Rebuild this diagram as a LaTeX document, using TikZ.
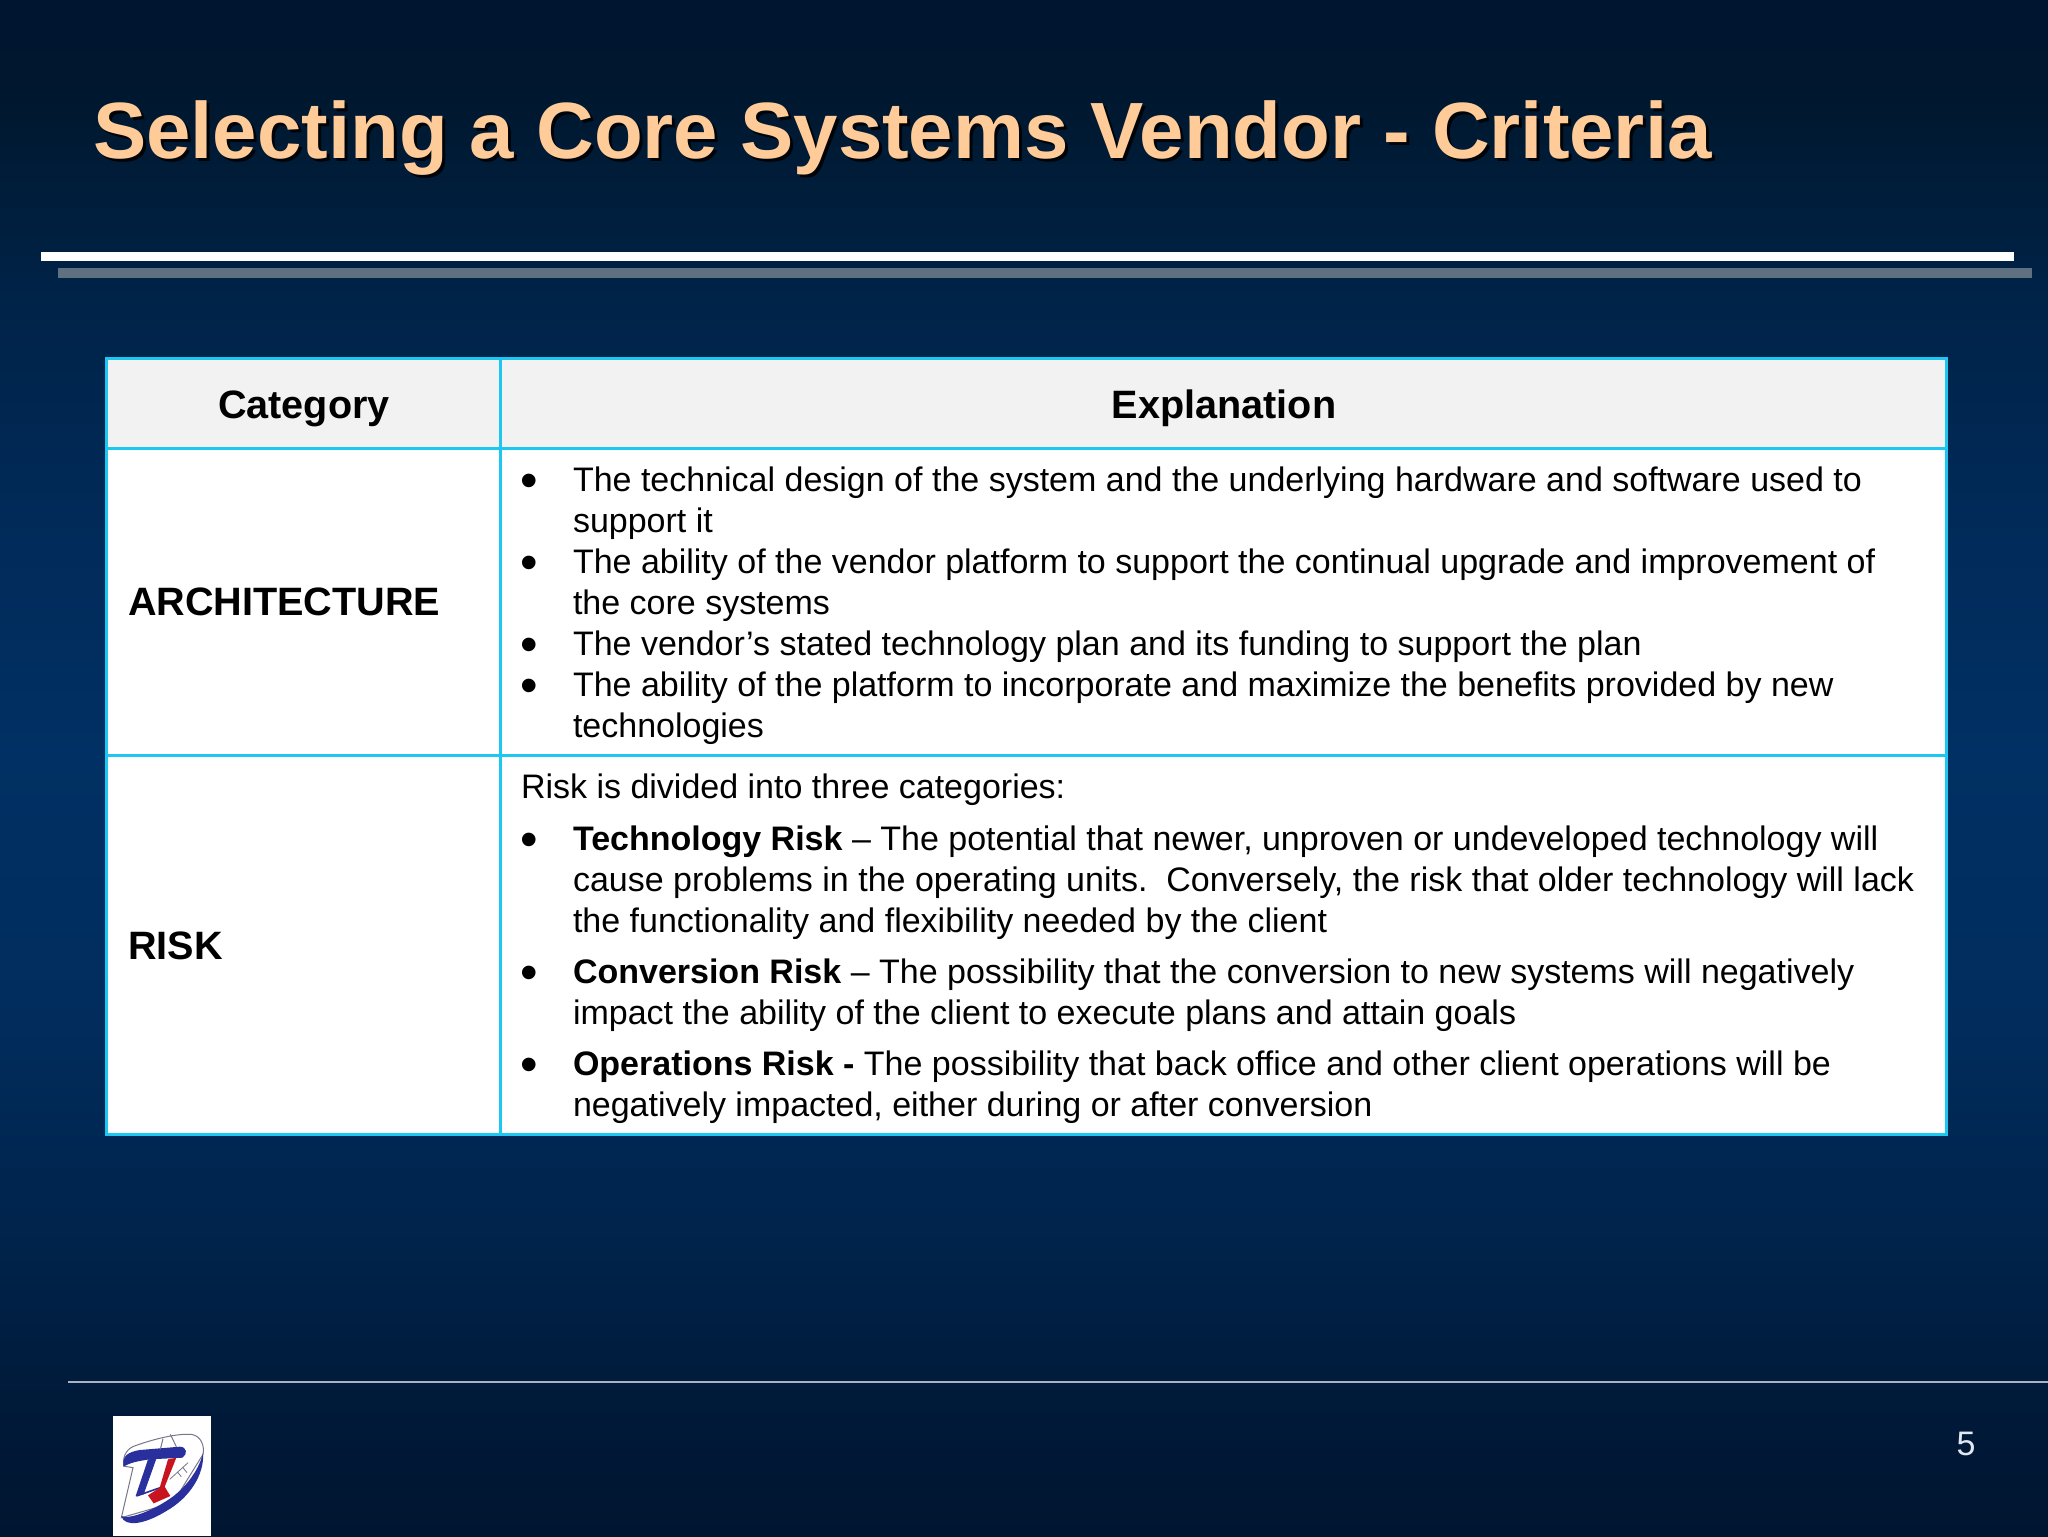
\documentclass[tikz,border=0pt]{standalone}
\usepackage{fontspec}
\setmainfont{Liberation Sans}
\definecolor{bga}{HTML}{001530}
\definecolor{bgb}{HTML}{00182F}
\definecolor{bgc}{HTML}{002348}
\definecolor{bgd}{HTML}{012A58}
\definecolor{bge}{HTML}{013064}
\definecolor{bgf}{HTML}{012D5E}
\definecolor{bgg}{HTML}{00234A}
\definecolor{bgh}{HTML}{001A3A}
\definecolor{titlecol}{HTML}{FFCC99}
\definecolor{gridcol}{HTML}{1CC8F2}
\definecolor{headcol}{HTML}{F2F2F2}
\definecolor{shadowbar}{HTML}{5F7080}
\definecolor{footline}{HTML}{A8B4C4}
\definecolor{numcol}{HTML}{E2E8F0}
\definecolor{logoblue}{HTML}{2A2F9E}
\definecolor{logored}{HTML}{C8141E}
\definecolor{logogray}{HTML}{77778A}
\pgfdeclareverticalshading{slidebg}{100bp}{color(0bp)=(bga); color(25bp)=(bga); color(29.5bp)=(bgh); color(34.3bp)=(bgg); color(42.5bp)=(bgf); color(50.5bp)=(bge); color(58.5bp)=(bgd); color(65.25bp)=(bgc); color(71.75bp)=(bgb); color(75bp)=(bga); color(100bp)=(bga)}
\newcommand{\bodyfont}{\fontsize{17}{20}\selectfont}
\tikzset{
  line/.style={anchor=base west,inner sep=0pt,outer sep=0pt,font=\bodyfont,text=black},
  bul/.style={anchor=base,inner sep=0pt,outer sep=0pt,font=\fontsize{25}{25}\selectfont,text=black,text height=13pt,text depth=0pt},
  cat/.style={anchor=base west,inner sep=0pt,outer sep=0pt,font=\fontsize{19.8}{22}\selectfont\bfseries,text=black},
  head/.style={anchor=base,inner sep=0pt,outer sep=0pt,font=\fontsize{19.8}{22}\selectfont\bfseries,text=black},
  titletext/.style={anchor=base west,inner sep=0pt,outer sep=0pt,font=\fontsize{39.9}{44}\selectfont\bfseries},
  grid/.style={draw=gridcol,line width=1.5pt},
}
\begin{document}
\begin{tikzpicture}[x=0.5pt,y=-0.5pt]
\useasboundingbox (0,0) rectangle (2048,1536);
\shade[shading=slidebg] (0,0) rectangle (2048,1536);
% title
\node[titletext,text=black!85!bga] (titleshadow) at (96,161) {Selecting a Core Systems Vendor - Criteria};
\node[titletext,text=titlecol] (title) at (93,158) {Selecting a Core Systems Vendor - Criteria};
% rules
\fill[shadowbar] (58,268) rectangle (2032,278);
\fill[white] (41,252) rectangle (2014,261);
% table
\fill[headcol] (106,358) rectangle (1946,448);
\fill[white] (106,448) rectangle (1946,1134);
\coordinate (tl) at (106,358); \coordinate (tr) at (1946,358);
\coordinate (bl) at (106,1134); \coordinate (br) at (1946,1134);
\coordinate (c1) at (500,358); \coordinate (c2) at (500,1134);
\coordinate (r1a) at (106,448); \coordinate (r1b) at (1946,448);
\coordinate (r2a) at (106,755); \coordinate (r2b) at (1946,755);
\draw[grid] (c1) -- (c2);
\draw[grid] (r1a) -- (r1b);
\draw[grid] (r2a) -- (r2b);
\draw[grid] (tl) -- (tr) -- (br) -- (bl) -- cycle;
\node[head] (hcat) at (304,418) {Category};
\node[head] (hexp) at (1224,418) {Explanation};
\node[cat] (arch) at (128,615) {ARCHITECTURE};
\node[cat] (risk) at (128,959) {RISK};
% architecture
\node[bul] (b1) at (529,497) {•};
\node[line] (l1) at (573,491.5) {The technical design of the system and the underlying hardware and software used to};
\node[line] (l2) at (573,532.5) {support it};
\node[bul] (b2) at (529,579) {•};
\node[line] (l3) at (573,573.5) {The ability of the vendor platform to support the continual upgrade and improvement of};
\node[line] (l4) at (573,614.5) {the core systems};
\node[bul] (b3) at (529,661) {•};
\node[line] (l5) at (573,655.5) {The vendor’s stated technology plan and its funding to support the plan};
\node[bul] (b4) at (529,702) {•};
\node[line] (l6) at (573,696.5) {The ability of the platform to incorporate and maximize the benefits provided by new};
\node[line] (l7) at (573,737.5) {technologies};
% risk
\node[line] (r0) at (521,798.5) {Risk is divided into three categories:};
\node[bul] (rb1) at (529,856) {•};
\node[line] (r1) at (573,850.5) {\textbf{Technology Risk} – The potential that newer, unproven or undeveloped technology will};
\node[line] (r2) at (573,891.5) {cause problems in the operating units.\ \ Conversely, the risk that older technology will lack};
\node[line] (r3) at (573,932.5) {the functionality and flexibility needed by the client};
\node[bul] (rb2) at (529,989) {•};
\node[line] (r4) at (573,983) {\textbf{Conversion Risk} – The possibility that the conversion to new systems will negatively};
\node[line] (r5) at (573,1024) {impact the ability of the client to execute plans and attain goals};
\node[bul] (rb3) at (529,1081) {•};
\node[line] (r6) at (573,1075.5) {\textbf{Operations Risk -} The possibility that back office and other client operations will be};
\node[line] (r7) at (573,1116.5) {negatively impacted, either during or after conversion};
% footer
\coordinate (fa) at (68,1382); \coordinate (fb) at (2048,1382);
\draw[footline,line width=0.8pt] (fa) -- (fb);
\node[anchor=base,inner sep=0pt,text=numcol,font=\fontsize{17}{19}\selectfont] (page) at (1966,1455) {5};
% logo
\fill[white] (113,1416) rectangle (211,1536);
\begin{scope}[shift={(113,1416)},x=0.1667pt,y=-0.1667pt]
% outline
\draw[logogray,line width=0.5pt,fill=white] (25,305) -- (60,155) -- (32,150) .. controls (28,115) and (45,95) .. (70,88) .. controls (120,70) and (190,52) .. (235,55) .. controls (265,60) and (275,90) .. (270,115) -- (180,260) -- cycle;
% lower swoosh
\fill[logoblue] (25,300) .. controls (35,335) and (95,325) .. (160,285) .. controls (230,245) and (275,175) .. (270,110) .. controls (262,150) and (225,215) .. (160,255) .. controls (105,290) and (45,310) .. (25,300) -- cycle;
% top bar
\fill[logoblue] (32,152) .. controls (26,120) and (45,108) .. (80,102) -- (200,92) .. controls (222,92) and (225,115) .. (208,125) -- (110,130) .. controls (75,135) and (50,140) .. (32,152) -- cycle;
% diagonals of the Z
\fill[logoblue] (105,130) -- (130,128) -- (92,235) -- (68,240) -- cycle;
\draw[logoblue,line width=0.8pt] (70,240) -- (150,212);
% red stroke and foot
\fill[logored] (165,130) -- (190,125) -- (155,212) -- (172,240) -- (122,262) -- (105,238) -- (140,215) -- cycle;
% thin marks
\draw[logogray,line width=0.5pt] (142,100) -- (150,68) (190,92) -- (172,55);
\draw[logogray,line width=0.4pt] (170,190) -- (225,140) (195,170) -- (205,182) (210,155) -- (222,170);
\end{scope}
\end{tikzpicture}
\end{document}
